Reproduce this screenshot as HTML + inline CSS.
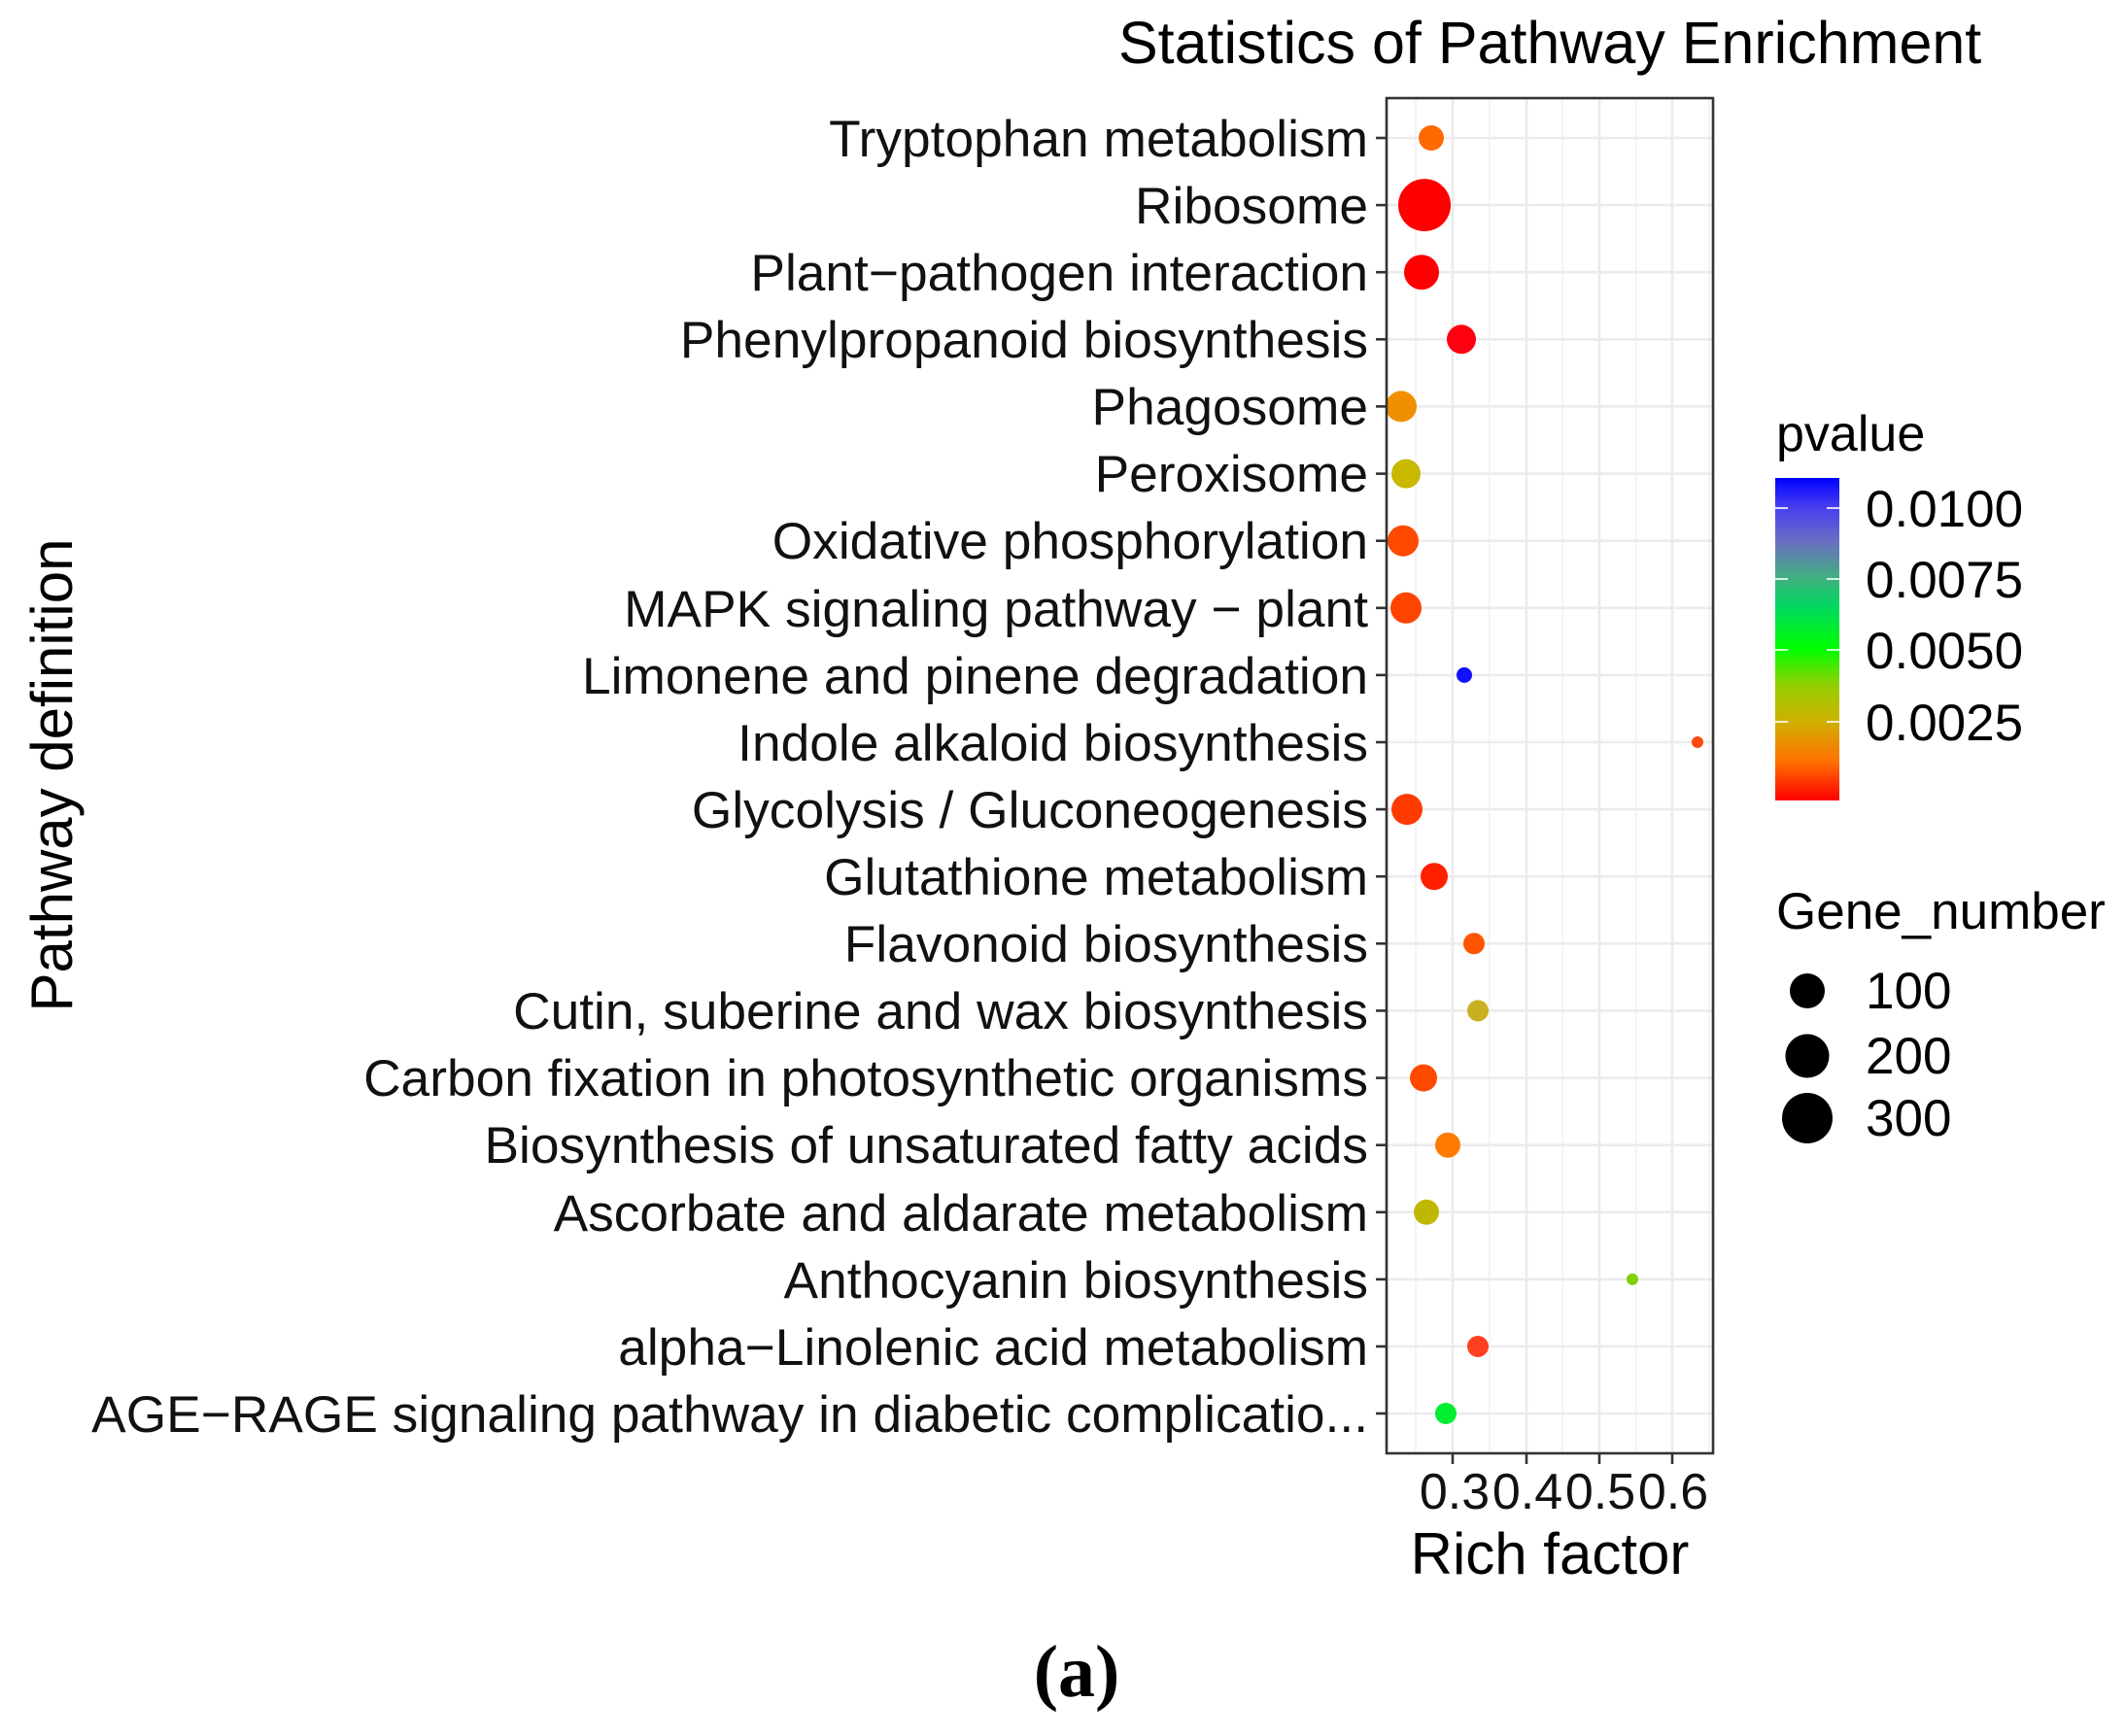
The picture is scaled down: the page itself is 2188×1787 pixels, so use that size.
<!DOCTYPE html>
<html><head><meta charset="utf-8"><style>html,body{margin:0;padding:0;background:#fff}svg{display:block}</style></head>
<body>
<svg width="2188" height="1787" viewBox="0 0 2188 1787" xmlns="http://www.w3.org/2000/svg" font-family="Liberation Sans, Arial, sans-serif">
<defs>
<linearGradient id="g" x1="0" y1="1" x2="0" y2="0">
<stop offset="0" stop-color="#ff0000"/>
<stop offset="0.12" stop-color="#ff7000"/>
<stop offset="0.244" stop-color="#d0b000"/>
<stop offset="0.36" stop-color="#90d000"/>
<stop offset="0.47" stop-color="#00ff00"/>
<stop offset="0.6" stop-color="#00d860"/>
<stop offset="0.69" stop-color="#40b080"/>
<stop offset="0.8" stop-color="#6a70c0"/>
<stop offset="0.907" stop-color="#4a40f0"/>
<stop offset="1" stop-color="#0000ff"/>
</linearGradient>
</defs>
<rect width="2188" height="1787" fill="#fff"/>
<text x="1151" y="65" font-size="61">Statistics of Pathway Enrichment</text>
<rect x="1427" y="101" width="336" height="1395" fill="#fff"/>
<g stroke="#efefef" stroke-width="1.3">
<line x1="1457" y1="101" x2="1457" y2="1496"/><line x1="1533" y1="101" x2="1533" y2="1496"/><line x1="1608" y1="101" x2="1608" y2="1496"/><line x1="1684" y1="101" x2="1684" y2="1496"/><line x1="1759" y1="101" x2="1759" y2="1496"/>
</g>
<g stroke="#ebebeb" stroke-width="2.6">
<line x1="1495" y1="101" x2="1495" y2="1496"/><line x1="1571" y1="101" x2="1571" y2="1496"/><line x1="1646" y1="101" x2="1646" y2="1496"/><line x1="1721" y1="101" x2="1721" y2="1496"/>
<line x1="1427" x2="1763" y1="142" y2="142"/><line x1="1427" x2="1763" y1="211.1" y2="211.1"/><line x1="1427" x2="1763" y1="280.2" y2="280.2"/><line x1="1427" x2="1763" y1="349.3" y2="349.3"/><line x1="1427" x2="1763" y1="418.4" y2="418.4"/><line x1="1427" x2="1763" y1="487.6" y2="487.6"/><line x1="1427" x2="1763" y1="556.7" y2="556.7"/><line x1="1427" x2="1763" y1="625.8" y2="625.8"/><line x1="1427" x2="1763" y1="694.9" y2="694.9"/><line x1="1427" x2="1763" y1="764" y2="764"/><line x1="1427" x2="1763" y1="833.1" y2="833.1"/><line x1="1427" x2="1763" y1="902.2" y2="902.2"/><line x1="1427" x2="1763" y1="971.3" y2="971.3"/><line x1="1427" x2="1763" y1="1040.4" y2="1040.4"/><line x1="1427" x2="1763" y1="1109.6" y2="1109.6"/><line x1="1427" x2="1763" y1="1178.7" y2="1178.7"/><line x1="1427" x2="1763" y1="1247.8" y2="1247.8"/><line x1="1427" x2="1763" y1="1316.9" y2="1316.9"/><line x1="1427" x2="1763" y1="1386" y2="1386"/><line x1="1427" x2="1763" y1="1455" y2="1455"/>
</g>
<circle cx="1473" cy="142" r="13" fill="#ff6a00"/>
<circle cx="1466" cy="211.1" r="27" fill="#ff0000"/>
<circle cx="1463" cy="280.2" r="18" fill="#ff0000"/>
<circle cx="1504" cy="349.3" r="15" fill="#ff0010"/>
<circle cx="1442" cy="418.4" r="16" fill="#f09000"/>
<circle cx="1447" cy="487.6" r="15" fill="#c8b800"/>
<circle cx="1444" cy="556.7" r="16" fill="#ff4a00"/>
<circle cx="1447" cy="625.8" r="16" fill="#ff4400"/>
<circle cx="1507" cy="694.9" r="8" fill="#1010ff"/>
<circle cx="1747" cy="764" r="6" fill="#ff4a10"/>
<circle cx="1448" cy="833.1" r="16" fill="#ff3a00"/>
<circle cx="1476" cy="902.2" r="14" fill="#ff2000"/>
<circle cx="1517" cy="971.3" r="11" fill="#ff5500"/>
<circle cx="1521" cy="1040.4" r="11" fill="#c8b020"/>
<circle cx="1465" cy="1109.6" r="14" fill="#ff4a00"/>
<circle cx="1490" cy="1178.7" r="13" fill="#ff7a00"/>
<circle cx="1468" cy="1247.8" r="13" fill="#c0b800"/>
<circle cx="1680" cy="1316.9" r="6" fill="#80d000"/>
<circle cx="1521" cy="1386" r="11" fill="#ff4020"/>
<circle cx="1488" cy="1455" r="11" fill="#00ee30"/>
<rect x="1427" y="101" width="336" height="1395" fill="none" stroke="#333" stroke-width="2.6"/>
<g stroke="#333" stroke-width="2.6">
<line x1="1416" x2="1427" y1="142" y2="142"/><line x1="1416" x2="1427" y1="211.1" y2="211.1"/><line x1="1416" x2="1427" y1="280.2" y2="280.2"/><line x1="1416" x2="1427" y1="349.3" y2="349.3"/><line x1="1416" x2="1427" y1="418.4" y2="418.4"/><line x1="1416" x2="1427" y1="487.6" y2="487.6"/><line x1="1416" x2="1427" y1="556.7" y2="556.7"/><line x1="1416" x2="1427" y1="625.8" y2="625.8"/><line x1="1416" x2="1427" y1="694.9" y2="694.9"/><line x1="1416" x2="1427" y1="764" y2="764"/><line x1="1416" x2="1427" y1="833.1" y2="833.1"/><line x1="1416" x2="1427" y1="902.2" y2="902.2"/><line x1="1416" x2="1427" y1="971.3" y2="971.3"/><line x1="1416" x2="1427" y1="1040.4" y2="1040.4"/><line x1="1416" x2="1427" y1="1109.6" y2="1109.6"/><line x1="1416" x2="1427" y1="1178.7" y2="1178.7"/><line x1="1416" x2="1427" y1="1247.8" y2="1247.8"/><line x1="1416" x2="1427" y1="1316.9" y2="1316.9"/><line x1="1416" x2="1427" y1="1386" y2="1386"/><line x1="1416" x2="1427" y1="1455" y2="1455"/>
<line x1="1495" x2="1495" y1="1496" y2="1507"/><line x1="1571" x2="1571" y1="1496" y2="1507"/><line x1="1646" x2="1646" y1="1496" y2="1507"/><line x1="1721" x2="1721" y1="1496" y2="1507"/>
</g>
<g font-size="53.3" text-anchor="end" fill="#111">
<text x="1408" y="161">Tryptophan metabolism</text>
<text x="1408" y="230">Ribosome</text>
<text x="1408" y="299">Plant−pathogen interaction</text>
<text x="1408" y="368">Phenylpropanoid biosynthesis</text>
<text x="1408" y="437">Phagosome</text>
<text x="1408" y="506">Peroxisome</text>
<text x="1408" y="575">Oxidative phosphorylation</text>
<text x="1408" y="645">MAPK signaling pathway − plant</text>
<text x="1408" y="714">Limonene and pinene degradation</text>
<text x="1408" y="783">Indole alkaloid biosynthesis</text>
<text x="1408" y="852">Glycolysis / Gluconeogenesis</text>
<text x="1408" y="921">Glutathione metabolism</text>
<text x="1408" y="990">Flavonoid biosynthesis</text>
<text x="1408" y="1059">Cutin, suberine and wax biosynthesis</text>
<text x="1408" y="1128">Carbon fixation in photosynthetic organisms</text>
<text x="1408" y="1197">Biosynthesis of unsaturated fatty acids</text>
<text x="1408" y="1267">Ascorbate and aldarate metabolism</text>
<text x="1408" y="1336">Anthocyanin biosynthesis</text>
<text x="1408" y="1405">alpha−Linolenic acid metabolism</text>
<text x="1408" y="1474">AGE−RAGE signaling pathway in diabetic complicatio...</text>
</g>
<g font-size="52" text-anchor="middle" fill="#111">
<text x="1497" y="1553">0.3</text><text x="1572" y="1553">0.4</text><text x="1647" y="1553">0.5</text><text x="1722" y="1553">0.6</text>
</g>
<text x="1595" y="1620" font-size="60" text-anchor="middle">Rich factor</text>
<text transform="translate(74,798) rotate(-90)" font-size="60" text-anchor="middle">Pathway definition</text>
<text x="1828" y="464" font-size="52">pvalue</text>
<rect x="1827" y="492" width="66" height="332" fill="url(#g)"/>
<g stroke="#fff" stroke-width="2" opacity="0.8">
<line x1="1827" x2="1840" y1="523" y2="523"/><line x1="1880" x2="1893" y1="523" y2="523"/>
<line x1="1827" x2="1840" y1="596" y2="596"/><line x1="1880" x2="1893" y1="596" y2="596"/>
<line x1="1827" x2="1840" y1="669" y2="669"/><line x1="1880" x2="1893" y1="669" y2="669"/>
<line x1="1827" x2="1840" y1="743" y2="743"/><line x1="1880" x2="1893" y1="743" y2="743"/>
</g>
<g font-size="53">
<text x="1920" y="542">0.0100</text>
<text x="1920" y="615">0.0075</text>
<text x="1920" y="688">0.0050</text>
<text x="1920" y="762">0.0025</text>
<text x="1828" y="956">Gene_number</text>
<text x="1920" y="1038">100</text>
<text x="1920" y="1105">200</text>
<text x="1920" y="1169">300</text>
</g>
<circle cx="1860" cy="1020" r="18" fill="#000"/>
<circle cx="1860" cy="1087" r="22.5" fill="#000"/>
<circle cx="1860" cy="1151" r="26" fill="#000"/>
<text x="1108" y="1746" font-size="76" font-weight="bold" text-anchor="middle" font-family="Liberation Serif, serif">(a)</text>
</svg>
</body></html>
